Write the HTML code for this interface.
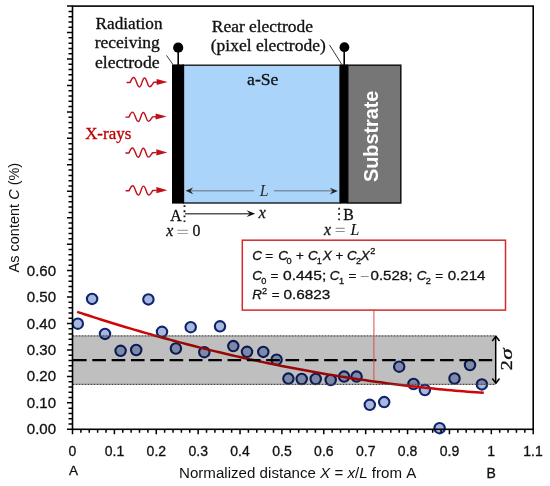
<!DOCTYPE html><html><head><meta charset="utf-8"><title>As content profile</title><style>html,body{margin:0;padding:0;background:#fff;}svg{display:block;}text{font-kerning:none;}</style></head><body>
<svg width="550" height="486" viewBox="0 0 550 486">
<rect width="550" height="486" fill="#fff"/>
<circle cx="77.8" cy="323.7" r="5.2" fill="#a8b8dc" stroke="#0f2370" stroke-width="2.1"/>
<circle cx="92.1" cy="298.9" r="5.2" fill="#a8b8dc" stroke="#0f2370" stroke-width="2.1"/>
<circle cx="105.0" cy="333.9" r="5.2" fill="#a8b8dc" stroke="#0f2370" stroke-width="2.1"/>
<circle cx="120.6" cy="350.8" r="5.2" fill="#a8b8dc" stroke="#0f2370" stroke-width="2.1"/>
<circle cx="136.2" cy="350.0" r="5.2" fill="#a8b8dc" stroke="#0f2370" stroke-width="2.1"/>
<circle cx="148.4" cy="299.4" r="5.2" fill="#a8b8dc" stroke="#0f2370" stroke-width="2.1"/>
<circle cx="162.0" cy="331.8" r="5.2" fill="#a8b8dc" stroke="#0f2370" stroke-width="2.1"/>
<circle cx="175.9" cy="348.5" r="5.2" fill="#a8b8dc" stroke="#0f2370" stroke-width="2.1"/>
<circle cx="190.7" cy="327.2" r="5.2" fill="#a8b8dc" stroke="#0f2370" stroke-width="2.1"/>
<circle cx="204.3" cy="352.2" r="5.2" fill="#a8b8dc" stroke="#0f2370" stroke-width="2.1"/>
<circle cx="220.0" cy="326.3" r="5.2" fill="#a8b8dc" stroke="#0f2370" stroke-width="2.1"/>
<circle cx="233.3" cy="346.1" r="5.2" fill="#a8b8dc" stroke="#0f2370" stroke-width="2.1"/>
<circle cx="247.0" cy="351.8" r="5.2" fill="#a8b8dc" stroke="#0f2370" stroke-width="2.1"/>
<circle cx="263.3" cy="351.9" r="5.2" fill="#a8b8dc" stroke="#0f2370" stroke-width="2.1"/>
<circle cx="276.6" cy="359.7" r="5.2" fill="#a8b8dc" stroke="#0f2370" stroke-width="2.1"/>
<circle cx="288.4" cy="378.6" r="5.2" fill="#a8b8dc" stroke="#0f2370" stroke-width="2.1"/>
<circle cx="301.7" cy="379.0" r="5.2" fill="#a8b8dc" stroke="#0f2370" stroke-width="2.1"/>
<circle cx="315.7" cy="379.0" r="5.2" fill="#a8b8dc" stroke="#0f2370" stroke-width="2.1"/>
<circle cx="330.7" cy="380.0" r="5.2" fill="#a8b8dc" stroke="#0f2370" stroke-width="2.1"/>
<circle cx="344.1" cy="376.6" r="5.2" fill="#a8b8dc" stroke="#0f2370" stroke-width="2.1"/>
<circle cx="356.6" cy="376.6" r="5.2" fill="#a8b8dc" stroke="#0f2370" stroke-width="2.1"/>
<circle cx="369.8" cy="404.8" r="5.2" fill="#a8b8dc" stroke="#0f2370" stroke-width="2.1"/>
<circle cx="384.2" cy="402.1" r="5.2" fill="#a8b8dc" stroke="#0f2370" stroke-width="2.1"/>
<circle cx="399.2" cy="366.7" r="5.2" fill="#a8b8dc" stroke="#0f2370" stroke-width="2.1"/>
<circle cx="413.5" cy="384.0" r="5.2" fill="#a8b8dc" stroke="#0f2370" stroke-width="2.1"/>
<circle cx="424.9" cy="390.0" r="5.2" fill="#a8b8dc" stroke="#0f2370" stroke-width="2.1"/>
<circle cx="439.6" cy="428.2" r="5.2" fill="#a8b8dc" stroke="#0f2370" stroke-width="2.1"/>
<circle cx="454.5" cy="378.5" r="5.2" fill="#a8b8dc" stroke="#0f2370" stroke-width="2.1"/>
<circle cx="470.0" cy="365.0" r="5.2" fill="#a8b8dc" stroke="#0f2370" stroke-width="2.1"/>
<circle cx="481.9" cy="384.4" r="5.2" fill="#a8b8dc" stroke="#0f2370" stroke-width="2.1"/>
<polyline points="77.11,311.83 81.17,313.17 85.24,314.49 89.31,315.81 93.37,317.12 97.44,318.41 101.51,319.70 105.57,320.97 109.64,322.24 113.71,323.49 117.77,324.73 121.84,325.96 125.91,327.19 129.97,328.40 134.04,329.60 138.11,330.79 142.17,331.96 146.24,333.13 150.31,334.29 154.37,335.44 158.44,336.57 162.51,337.70 166.57,338.81 170.64,339.91 174.71,341.01 178.78,342.09 182.84,343.16 186.91,344.22 190.98,345.27 195.04,346.31 199.11,347.34 203.18,348.36 207.24,349.37 211.31,350.37 215.38,351.35 219.44,352.33 223.51,353.29 227.58,354.25 231.64,355.19 235.71,356.12 239.78,357.05 243.84,357.96 247.91,358.86 251.98,359.75 256.04,360.63 260.11,361.50 264.18,362.36 268.24,363.20 272.31,364.04 276.38,364.87 280.44,365.68 284.51,366.49 288.58,367.28 292.64,368.07 296.71,368.84 300.78,369.60 304.84,370.35 308.91,371.09 312.98,371.82 317.04,372.54 321.11,373.25 325.18,373.95 329.24,374.64 333.31,375.32 337.38,375.98 341.44,376.64 345.51,377.28 349.58,377.92 353.64,378.54 357.71,379.15 361.78,379.75 365.84,380.35 369.91,380.93 373.98,381.50 378.04,382.06 382.11,382.61 386.18,383.14 390.24,383.67 394.31,384.19 398.38,384.69 402.44,385.19 406.51,385.67 410.58,386.15 414.65,386.61 418.71,387.06 422.78,387.51 426.85,387.94 430.91,388.36 434.98,388.77 439.05,389.17 443.11,389.56 447.18,389.93 451.25,390.30 455.31,390.66 459.38,391.00 463.45,391.34 467.51,391.66 471.58,391.98 475.65,392.28 479.71,392.57 483.78,392.86" fill="none" stroke="#cc0808" stroke-width="2.5"/>
<rect x="72.5" y="335.9" width="423.1" height="48.5" fill="rgba(0,0,0,0.25)"/>
<line x1="72.5" y1="335.9" x2="495.6" y2="335.9" stroke="#484848" stroke-width="1.2" stroke-dasharray="2 1"/>
<line x1="72.5" y1="384.4" x2="495.6" y2="384.4" stroke="#484848" stroke-width="1.2" stroke-dasharray="2 1"/>
<line x1="73.0" y1="360.2" x2="492.2" y2="360.2" stroke="#000" stroke-width="2.2" stroke-dasharray="13.6 5.72"/>
<line x1="373.9" y1="310" x2="373.9" y2="380.3" stroke="#dd4a4a" stroke-width="1"/>
<line x1="495.7" y1="337" x2="495.7" y2="383" stroke="#000" stroke-width="1.5"/>
<polyline points="492.3,341 495.9,336.2 499.5,341" fill="none" stroke="#000" stroke-width="1.5"/>
<polyline points="492.3,378.5 495.9,383.3 499.5,378.5" fill="none" stroke="#000" stroke-width="1.5"/>
<g transform="translate(511.9,369.6) rotate(-90)">
<text transform="translate(-0.92,0.00) scale(1.1974,1)" style="font-family:'Liberation Serif',serif;font-size:17.5px;fill:#111;stroke:#111;stroke-width:0.3px;">2</text>
<text transform="translate(9.91,0.00) scale(1.3157,1)" style="font-family:'Liberation Serif',serif;font-size:17.5px;font-style:italic;fill:#111;stroke:#111;stroke-width:0.3px;">σ</text>
</g>
<rect x="72.5" y="6.1" width="460.7" height="423.2" fill="none" stroke="#000" stroke-width="1.6"/>
<path d="M67.00,429.30H72.5M68.50,424.01H72.5M68.50,418.72H72.5M68.50,413.43H72.5M68.50,408.14H72.5M67.00,402.85H72.5M68.50,397.56H72.5M68.50,392.27H72.5M68.50,386.98H72.5M68.50,381.69H72.5M67.00,376.40H72.5M68.50,371.11H72.5M68.50,365.82H72.5M68.50,360.53H72.5M68.50,355.24H72.5M67.00,349.95H72.5M68.50,344.66H72.5M68.50,339.37H72.5M68.50,334.08H72.5M68.50,328.79H72.5M67.00,323.50H72.5M68.50,318.21H72.5M68.50,312.92H72.5M68.50,307.63H72.5M68.50,302.34H72.5M67.00,297.05H72.5M68.50,291.76H72.5M68.50,286.47H72.5M68.50,281.18H72.5M68.50,275.89H72.5M67.00,270.60H72.5M68.50,265.31H72.5M68.50,260.02H72.5M68.50,254.73H72.5M68.50,249.44H72.5M67.00,244.15H72.5M68.50,238.86H72.5M68.50,233.57H72.5M68.50,228.28H72.5M68.50,222.99H72.5M67.00,217.70H72.5M68.50,212.41H72.5M68.50,207.12H72.5M68.50,201.83H72.5M68.50,196.54H72.5M67.00,191.25H72.5M68.50,185.96H72.5M68.50,180.67H72.5M68.50,175.38H72.5M68.50,170.09H72.5M67.00,164.80H72.5M68.50,159.51H72.5M68.50,154.22H72.5M68.50,148.93H72.5M68.50,143.64H72.5M67.00,138.35H72.5M68.50,133.06H72.5M68.50,127.77H72.5M68.50,122.48H72.5M68.50,117.19H72.5M67.00,111.90H72.5M68.50,106.61H72.5M68.50,101.32H72.5M68.50,96.03H72.5M68.50,90.74H72.5M67.00,85.45H72.5M68.50,80.16H72.5M68.50,74.87H72.5M68.50,69.58H72.5M68.50,64.29H72.5M67.00,59.00H72.5M68.50,53.71H72.5M68.50,48.42H72.5M68.50,43.13H72.5M68.50,37.84H72.5M67.00,32.55H72.5M68.50,27.26H72.5M68.50,21.97H72.5M68.50,16.68H72.5M68.50,11.39H72.5M67.00,6.10H72.5" stroke="#000" stroke-width="1.5" fill="none"/>
<path d="M72.50,429.3V434.30M80.88,429.3V432.80M89.25,429.3V432.80M97.63,429.3V432.80M106.01,429.3V432.80M114.38,429.3V434.30M122.76,429.3V432.80M131.13,429.3V432.80M139.51,429.3V432.80M147.89,429.3V432.80M156.26,429.3V434.30M164.64,429.3V432.80M173.02,429.3V432.80M181.39,429.3V432.80M189.77,429.3V432.80M198.15,429.3V434.30M206.52,429.3V432.80M214.90,429.3V432.80M223.27,429.3V432.80M231.65,429.3V432.80M240.03,429.3V434.30M248.40,429.3V432.80M256.78,429.3V432.80M265.16,429.3V432.80M273.53,429.3V432.80M281.91,429.3V434.30M290.29,429.3V432.80M298.66,429.3V432.80M307.04,429.3V432.80M315.41,429.3V432.80M323.79,429.3V434.30M332.17,429.3V432.80M340.54,429.3V432.80M348.92,429.3V432.80M357.30,429.3V432.80M365.67,429.3V434.30M374.05,429.3V432.80M382.43,429.3V432.80M390.80,429.3V432.80M399.18,429.3V432.80M407.55,429.3V434.30M415.93,429.3V432.80M424.31,429.3V432.80M432.68,429.3V432.80M441.06,429.3V432.80M449.44,429.3V434.30M457.81,429.3V432.80M466.19,429.3V432.80M474.57,429.3V432.80M482.94,429.3V432.80M491.32,429.3V434.30M499.69,429.3V432.80M508.07,429.3V432.80M516.45,429.3V432.80M524.82,429.3V432.80M533.20,429.3V434.30" stroke="#000" stroke-width="1.5" fill="none"/>
<text transform="translate(26.81,434.30) scale(1.0744,1)" style="font-family:'Liberation Sans',sans-serif;font-size:14px;fill:#111;stroke:#111;stroke-width:0.3px;">0.00</text>
<text transform="translate(26.81,407.85) scale(1.0744,1)" style="font-family:'Liberation Sans',sans-serif;font-size:14px;fill:#111;stroke:#111;stroke-width:0.3px;">0.10</text>
<text transform="translate(26.81,381.40) scale(1.0744,1)" style="font-family:'Liberation Sans',sans-serif;font-size:14px;fill:#111;stroke:#111;stroke-width:0.3px;">0.20</text>
<text transform="translate(26.81,354.95) scale(1.0744,1)" style="font-family:'Liberation Sans',sans-serif;font-size:14px;fill:#111;stroke:#111;stroke-width:0.3px;">0.30</text>
<text transform="translate(26.81,328.50) scale(1.0744,1)" style="font-family:'Liberation Sans',sans-serif;font-size:14px;fill:#111;stroke:#111;stroke-width:0.3px;">0.40</text>
<text transform="translate(26.81,302.05) scale(1.0744,1)" style="font-family:'Liberation Sans',sans-serif;font-size:14px;fill:#111;stroke:#111;stroke-width:0.3px;">0.50</text>
<text transform="translate(26.81,275.60) scale(1.0744,1)" style="font-family:'Liberation Sans',sans-serif;font-size:14px;fill:#111;stroke:#111;stroke-width:0.3px;">0.60</text>
<text transform="translate(68.61,455.80)" style="font-family:'Liberation Sans',sans-serif;font-size:14px;fill:#111;stroke:#111;stroke-width:0.3px;">0</text>
<text transform="translate(104.72,455.80)" style="font-family:'Liberation Sans',sans-serif;font-size:14px;fill:#111;stroke:#111;stroke-width:0.3px;">0.1</text>
<text transform="translate(146.61,455.80)" style="font-family:'Liberation Sans',sans-serif;font-size:14px;fill:#111;stroke:#111;stroke-width:0.3px;">0.2</text>
<text transform="translate(188.45,455.80)" style="font-family:'Liberation Sans',sans-serif;font-size:14px;fill:#111;stroke:#111;stroke-width:0.3px;">0.3</text>
<text transform="translate(230.23,455.80)" style="font-family:'Liberation Sans',sans-serif;font-size:14px;fill:#111;stroke:#111;stroke-width:0.3px;">0.4</text>
<text transform="translate(272.20,455.80)" style="font-family:'Liberation Sans',sans-serif;font-size:14px;fill:#111;stroke:#111;stroke-width:0.3px;">0.5</text>
<text transform="translate(314.09,455.80)" style="font-family:'Liberation Sans',sans-serif;font-size:14px;fill:#111;stroke:#111;stroke-width:0.3px;">0.6</text>
<text transform="translate(356.02,455.80)" style="font-family:'Liberation Sans',sans-serif;font-size:14px;fill:#111;stroke:#111;stroke-width:0.3px;">0.7</text>
<text transform="translate(397.85,455.80)" style="font-family:'Liberation Sans',sans-serif;font-size:14px;fill:#111;stroke:#111;stroke-width:0.3px;">0.8</text>
<text transform="translate(439.76,455.80)" style="font-family:'Liberation Sans',sans-serif;font-size:14px;fill:#111;stroke:#111;stroke-width:0.3px;">0.9</text>
<text transform="translate(487.23,455.80)" style="font-family:'Liberation Sans',sans-serif;font-size:14px;fill:#111;stroke:#111;stroke-width:0.3px;">1</text>
<text transform="translate(523.28,455.80)" style="font-family:'Liberation Sans',sans-serif;font-size:14px;fill:#111;stroke:#111;stroke-width:0.3px;">1.1</text>
<text transform="translate(68.90,475.40)" style="font-family:'Liberation Sans',sans-serif;font-size:13.5px;fill:#111;stroke:#111;stroke-width:0.3px;">A</text>
<text transform="translate(486.44,477.90)" style="font-family:'Liberation Sans',sans-serif;font-size:14px;fill:#111;stroke:#111;stroke-width:0.3px;">B</text>
<text x="179" y="478.4" textLength="237.3" lengthAdjust="spacingAndGlyphs" style="font-family:'Liberation Sans',sans-serif;font-size:14px;fill:#111">Normalized distance <tspan font-style="italic">X</tspan> = <tspan font-style="italic">x</tspan>/<tspan font-style="italic">L</tspan> from A</text>
<text transform="translate(18.5,217.6) rotate(-90)" text-anchor="middle" style="font-family:'Liberation Sans',sans-serif;font-size:14.5px;fill:#111">As content <tspan font-style="italic">C</tspan> (%)</text>
<rect x="242.3" y="240.2" width="263.2" height="69.9" fill="#fff" stroke="#d42a2a" stroke-width="1.5"/>
<text transform="translate(252.26,260.00)" style="font-family:'Liberation Sans',sans-serif;font-size:13.4px;font-style:italic;fill:#111;stroke:#111;stroke-width:0.3px;">C</text>
<text transform="translate(265.19,260.00)" style="font-family:'Liberation Sans',sans-serif;font-size:13.4px;fill:#111;stroke:#111;stroke-width:0.3px;">=</text>
<text transform="translate(278.16,260.00)" style="font-family:'Liberation Sans',sans-serif;font-size:13.4px;font-style:italic;fill:#111;stroke:#111;stroke-width:0.3px;">C</text>
<text transform="translate(286.54,263.50)" style="font-family:'Liberation Sans',sans-serif;font-size:9.2px;fill:#111;stroke:#111;stroke-width:0.3px;">0</text>
<text transform="translate(296.09,260.00)" style="font-family:'Liberation Sans',sans-serif;font-size:13.4px;fill:#111;stroke:#111;stroke-width:0.3px;">+</text>
<text transform="translate(307.96,260.00)" style="font-family:'Liberation Sans',sans-serif;font-size:13.4px;font-style:italic;fill:#111;stroke:#111;stroke-width:0.3px;">C</text>
<text transform="translate(316.82,263.50)" style="font-family:'Liberation Sans',sans-serif;font-size:9.2px;fill:#111;stroke:#111;stroke-width:0.3px;">1</text>
<text transform="translate(322.75,260.00)" style="font-family:'Liberation Sans',sans-serif;font-size:13.4px;font-style:italic;fill:#111;stroke:#111;stroke-width:0.3px;">X</text>
<text transform="translate(335.59,260.00)" style="font-family:'Liberation Sans',sans-serif;font-size:13.4px;fill:#111;stroke:#111;stroke-width:0.3px;">+</text>
<text transform="translate(347.06,260.00)" style="font-family:'Liberation Sans',sans-serif;font-size:13.4px;font-style:italic;fill:#111;stroke:#111;stroke-width:0.3px;">C</text>
<text transform="translate(356.04,263.50)" style="font-family:'Liberation Sans',sans-serif;font-size:9.2px;fill:#111;stroke:#111;stroke-width:0.3px;">2</text>
<text transform="translate(360.65,260.00)" style="font-family:'Liberation Sans',sans-serif;font-size:13.4px;font-style:italic;fill:#111;stroke:#111;stroke-width:0.3px;">X</text>
<text transform="translate(370.24,254.30)" style="font-family:'Liberation Sans',sans-serif;font-size:9.2px;fill:#111;stroke:#111;stroke-width:0.3px;">2</text>
<text transform="translate(252.26,280.30)" style="font-family:'Liberation Sans',sans-serif;font-size:13.4px;font-style:italic;fill:#111;stroke:#111;stroke-width:0.3px;">C</text>
<text transform="translate(261.34,284.10)" style="font-family:'Liberation Sans',sans-serif;font-size:9.2px;fill:#111;stroke:#111;stroke-width:0.3px;">0</text>
<text transform="translate(270.49,280.30)" style="font-family:'Liberation Sans',sans-serif;font-size:13.4px;fill:#111;stroke:#111;stroke-width:0.3px;">=</text>
<text transform="translate(282.99,280.30) scale(1.1625,1)" style="font-family:'Liberation Sans',sans-serif;font-size:13.4px;fill:#111;stroke:#111;stroke-width:0.3px;">0.445;</text>
<text transform="translate(329.76,280.30)" style="font-family:'Liberation Sans',sans-serif;font-size:13.4px;font-style:italic;fill:#111;stroke:#111;stroke-width:0.3px;">C</text>
<text transform="translate(338.92,284.10)" style="font-family:'Liberation Sans',sans-serif;font-size:9.2px;fill:#111;stroke:#111;stroke-width:0.3px;">1</text>
<text transform="translate(348.39,280.30)" style="font-family:'Liberation Sans',sans-serif;font-size:13.4px;fill:#111;stroke:#111;stroke-width:0.3px;">=</text>
<text transform="translate(361.08,280.30)" style="font-family:'Liberation Sans',sans-serif;font-size:13.4px;fill:#8a8a8a;stroke:#8a8a8a;stroke-width:0.3px;">–</text>
<text transform="translate(370.51,280.30) scale(1.1259,1)" style="font-family:'Liberation Sans',sans-serif;font-size:13.4px;fill:#111;stroke:#111;stroke-width:0.3px;">0.528;</text>
<text transform="translate(416.76,280.30)" style="font-family:'Liberation Sans',sans-serif;font-size:13.4px;font-style:italic;fill:#111;stroke:#111;stroke-width:0.3px;">C</text>
<text transform="translate(425.84,284.10)" style="font-family:'Liberation Sans',sans-serif;font-size:9.2px;fill:#111;stroke:#111;stroke-width:0.3px;">2</text>
<text transform="translate(435.19,280.30)" style="font-family:'Liberation Sans',sans-serif;font-size:13.4px;fill:#111;stroke:#111;stroke-width:0.3px;">=</text>
<text transform="translate(447.71,280.30) scale(1.1283,1)" style="font-family:'Liberation Sans',sans-serif;font-size:13.4px;fill:#111;stroke:#111;stroke-width:0.3px;">0.214</text>
<text transform="translate(252.16,299.40)" style="font-family:'Liberation Sans',sans-serif;font-size:13.4px;font-style:italic;fill:#111;stroke:#111;stroke-width:0.3px;">R</text>
<text transform="translate(261.94,293.70)" style="font-family:'Liberation Sans',sans-serif;font-size:9.2px;fill:#111;stroke:#111;stroke-width:0.3px;">2</text>
<text transform="translate(271.79,299.40)" style="font-family:'Liberation Sans',sans-serif;font-size:13.4px;fill:#111;stroke:#111;stroke-width:0.3px;">=</text>
<text transform="translate(283.40,299.40) scale(1.1436,1)" style="font-family:'Liberation Sans',sans-serif;font-size:13.4px;fill:#111;stroke:#111;stroke-width:0.3px;">0.6823</text>
<rect x="183.5" y="65.2" width="156.5" height="137.8" fill="#abd4fb" stroke="#1a1a1a" stroke-width="1.4"/>
<rect x="347.8" y="65.2" width="53" height="137.8" fill="#767676" stroke="#111" stroke-width="1.5"/>
<rect x="172" y="64.4" width="12" height="139.2" fill="#000"/>
<rect x="340.0" y="64.4" width="7.7" height="139.2" fill="#000"/>
<line x1="178.2" y1="48" x2="178.2" y2="65" stroke="#000" stroke-width="1.6"/>
<circle cx="178.2" cy="47.7" r="5.1" fill="#000"/>
<line x1="344.2" y1="47" x2="344.2" y2="65" stroke="#000" stroke-width="1.6"/>
<circle cx="344.4" cy="47.2" r="4.9" fill="#000"/>
<line x1="166.5" y1="55.4" x2="172.6" y2="64" stroke="#222" stroke-width="0.9"/>
<line x1="329.5" y1="44.9" x2="341.8" y2="64.5" stroke="#222" stroke-width="0.9"/>
<text transform="translate(378.0,136.3) rotate(-90)" text-anchor="middle" style="font-family:'Liberation Sans',sans-serif;font-size:19.8px;font-weight:bold;fill:#fff">Substrate</text>
<text transform="translate(247.08,85.30) scale(1.1160,1)" style="font-family:'Liberation Serif',serif;font-size:15.8px;fill:#111;stroke:#111;stroke-width:0.3px;">a-Se</text>
<text transform="translate(95.60,28.60) scale(1.0899,1)" style="font-family:'Liberation Serif',serif;font-size:15.8px;fill:#111;stroke:#111;stroke-width:0.3px;">Radiation</text>
<text transform="translate(94.75,48.00) scale(1.1072,1)" style="font-family:'Liberation Serif',serif;font-size:15.8px;fill:#111;stroke:#111;stroke-width:0.3px;">receiving</text>
<text transform="translate(94.91,67.70) scale(1.1176,1)" style="font-family:'Liberation Serif',serif;font-size:15.8px;fill:#111;stroke:#111;stroke-width:0.3px;">electrode</text>
<text transform="translate(211.80,31.50) scale(1.1030,1)" style="font-family:'Liberation Serif',serif;font-size:15.8px;fill:#111;stroke:#111;stroke-width:0.3px;">Rear electrode</text>
<text transform="translate(210.73,51.20) scale(1.1075,1)" style="font-family:'Liberation Serif',serif;font-size:15.8px;fill:#111;stroke:#111;stroke-width:0.3px;">(pixel electrode)</text>
<text transform="translate(85.13,138.60) scale(1.0287,1)" style="font-family:'Liberation Serif',serif;font-size:16.5px;fill:#c00000;stroke:#c00000;stroke-width:0.3px;">X-rays</text>
<path d="M126.60,82.50 L130.10,82.50 C131.04,80.75 132.03,77.50 133.60,77.50 C136.25,77.50 136.84,86.90 139.50,86.90 C141.75,86.90 142.25,77.90 144.50,77.90 C146.84,77.90 147.36,86.70 149.70,86.70 C151.50,86.70 152.62,83.84 153.70,82.30 L157.60,82.20" fill="none" stroke="#c0101c" stroke-width="1.45" stroke-linejoin="round"/>
<polygon points="167.6,82.0 156.6,78.9 156.6,85.0" fill="#c0101c"/>
<path d="M125.40,117.10 L128.90,117.10 C129.84,115.35 130.83,112.10 132.40,112.10 C135.06,112.10 135.65,121.50 138.30,121.50 C140.55,121.50 141.05,112.50 143.30,112.50 C145.64,112.50 146.16,121.30 148.50,121.30 C150.30,121.30 151.42,118.44 152.50,116.90 L156.40,116.80" fill="none" stroke="#c0101c" stroke-width="1.45" stroke-linejoin="round"/>
<polygon points="166.6,116.6 155.6,113.5 155.6,119.6" fill="#c0101c"/>
<path d="M125.40,152.90 L128.90,152.90 C129.84,151.15 130.83,147.90 132.40,147.90 C135.06,147.90 135.65,157.30 138.30,157.30 C140.55,157.30 141.05,148.30 143.30,148.30 C145.64,148.30 146.16,157.10 148.50,157.10 C150.30,157.10 151.42,154.24 152.50,152.70 L156.40,152.60" fill="none" stroke="#c0101c" stroke-width="1.45" stroke-linejoin="round"/>
<polygon points="167.3,152.4 156.3,149.3 156.3,155.4" fill="#c0101c"/>
<path d="M125.60,190.70 L129.10,190.70 C130.04,188.95 131.03,185.70 132.60,185.70 C135.25,185.70 135.84,195.10 138.50,195.10 C140.75,195.10 141.25,186.10 143.50,186.10 C145.84,186.10 146.36,194.90 148.70,194.90 C150.50,194.90 151.62,192.04 152.70,190.50 L156.60,190.40" fill="none" stroke="#c0101c" stroke-width="1.45" stroke-linejoin="round"/>
<polygon points="167.4,190.2 156.4,187.1 156.4,193.2" fill="#c0101c"/>
<line x1="189" y1="190.8" x2="254" y2="190.8" stroke="#7d90a4" stroke-width="1.4"/>
<line x1="274" y1="190.8" x2="334" y2="190.8" stroke="#7d90a4" stroke-width="1.4"/>
<polygon points="185.6,190.8 193.2,187.6 190.6,190.8 193.2,194.2" fill="#262626"/>
<polygon points="337.8,190.9 329.8,187.8 332.6,190.9 329.8,194.4" fill="#262626"/>
<text transform="translate(259.77,196.00)" style="font-family:'Liberation Serif',serif;font-size:15.8px;font-style:italic;fill:#2a2a2a;stroke:#2a2a2a;stroke-width:0px;">L</text>
<line x1="185" y1="213.7" x2="250" y2="213.7" stroke="#555" stroke-width="1.5"/>
<polygon points="255.2,213.7 246.6,210.3 249.8,213.7 246.6,217.1" fill="#111"/>
<text transform="translate(258.75,217.60)" style="font-family:'Liberation Serif',serif;font-size:15.8px;font-style:italic;fill:#111;stroke:#111;stroke-width:0.3px;">x</text>
<line x1="184.5" y1="205.2" x2="184.5" y2="222" stroke="#1a1a1a" stroke-width="1.9" stroke-dasharray="1.9 3.2"/>
<line x1="339.1" y1="207.8" x2="339.1" y2="222" stroke="#333" stroke-width="1.9" stroke-dasharray="1.9 3.4"/>
<text transform="translate(170.23,220.80)" style="font-family:'Liberation Serif',serif;font-size:15.8px;fill:#111;stroke:#111;stroke-width:0.3px;">A</text>
<text transform="translate(343.29,219.70)" style="font-family:'Liberation Serif',serif;font-size:15.8px;fill:#111;stroke:#111;stroke-width:0.3px;">B</text>
<text transform="translate(166.25,236.00)" style="font-family:'Liberation Serif',serif;font-size:15.8px;font-style:italic;fill:#111;stroke:#111;stroke-width:0.3px;">x</text>
<text transform="translate(176.65,237.80) scale(1.3329,1)" style="font-family:'Liberation Serif',serif;font-size:15.8px;fill:#a0a0a0;stroke:#a0a0a0;stroke-width:0.3px;">=</text>
<text transform="translate(192.45,236.00)" style="font-family:'Liberation Serif',serif;font-size:15.8px;fill:#111;stroke:#111;stroke-width:0.3px;">0</text>
<text transform="translate(324.05,234.70)" style="font-family:'Liberation Serif',serif;font-size:15.8px;font-style:italic;fill:#111;stroke:#111;stroke-width:0.3px;">x</text>
<text transform="translate(334.89,236.40) scale(1.1561,1)" style="font-family:'Liberation Serif',serif;font-size:15.8px;fill:#909090;stroke:#909090;stroke-width:0.3px;">=</text>
<text transform="translate(350.57,234.70)" style="font-family:'Liberation Serif',serif;font-size:15.8px;font-style:italic;fill:#111;stroke:#111;stroke-width:0.1px;">L</text>
</svg></body></html>
